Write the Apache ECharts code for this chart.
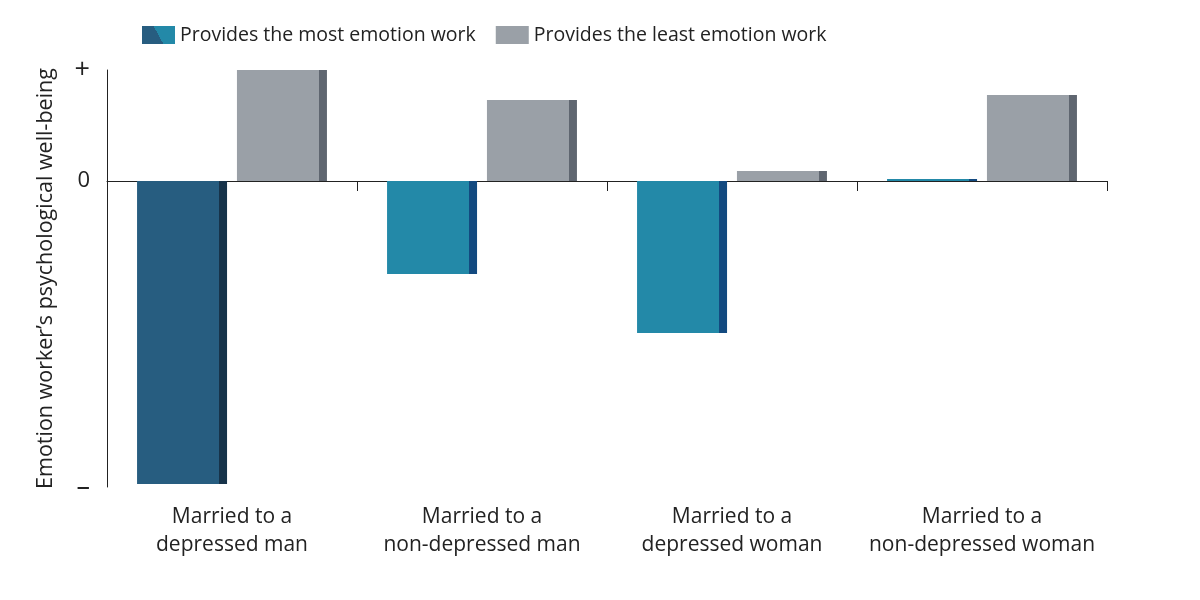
<!DOCTYPE html>
<html>
<head>
<meta charset="utf-8">
<script src="https://cdn.jsdelivr.net/npm/echarts@6/dist/echarts.min.js"></script>
<style>
  html, body { margin: 0; padding: 0; background: #fff; }
  #chart { width: 1200px; height: 600px; }
</style>
</head>
<body>
<div id="chart"></div>
<script>
// categories and values (relative well-being, zero = baseline)
const categories = [
  'Married to a\ndepressed man',
  'Married to a\nnon-depressed man',
  'Married to a\ndepressed woman',
  'Married to a\nnon-depressed woman'
]
const mostWork = [-303, -93, -152, 2]
const leastWork = [111, 81, 10, 86]
const yMin = -306
const yMax = 111

function sideShade (main, dark) {
  return new echarts.graphic.LinearGradient(0, 0, 1, 0, [
    { offset: 0, color: main },
    { offset: 0.91, color: main },
    { offset: 0.91, color: dark },
    { offset: 1, color: dark }
  ])
}

const blue = sideShade('#2389a8', '#134a80')
const blueDark = sideShade('#275d80', '#17334a')
const gray = sideShade('#9aa0a7', '#5f6670')

const font = 'Open Sans'

let myChart = echarts.init(document.getElementById('chart'))
myChart.setOption({
  animation: false,
  textStyle: { fontFamily: font },
  legend: {
    left: 137,
    top: 20,
    icon: 'rect',
    itemWidth: 33,
    itemHeight: 18,
    itemGap: 20,
    textStyle: { fontSize: 19.5, color: '#222', fontFamily: font },
    data: [
      {
        name: 'Provides the most emotion work',
        itemStyle: {
          color: new echarts.graphic.LinearGradient(0, 1, 1, 0, [
            { offset: 0, color: '#275d80' },
            { offset: 0.5, color: '#275d80' },
            { offset: 0.5, color: '#2389a8' },
            { offset: 1, color: '#2389a8' }
          ])
        }
      },
      { name: 'Provides the least emotion work', itemStyle: { color: '#9aa0a7' } }
    ]
  },
  grid: { left: 107, right: 93, top: 70, bottom: 113 },
  xAxis: [
    {
      type: 'category',
      data: categories,
      axisLine: { onZero: true, lineStyle: { color: '#222', width: 1 } },
      axisTick: { show: true, length: 10, lineStyle: { color: '#222' } },
      axisLabel: { show: false }
    },
    {
      type: 'category',
      data: categories,
      position: 'bottom',
      axisLine: { show: false, onZero: false },
      axisTick: { show: false },
      axisLabel: { interval: 0, margin: 16, fontSize: 21, lineHeight: 28, color: '#222', fontFamily: font }
    }
  ],
  yAxis: {
    type: 'value',
    min: yMin,
    max: yMax,
    name: 'Emotion worker\u2019s psychological well-being',
    nameLocation: 'middle',
    nameGap: 50,
    nameTextStyle: { fontSize: 21.5, color: '#222', fontFamily: font },
    axisLine: { show: true, lineStyle: { color: '#222', width: 1 } },
    axisTick: { show: false },
    splitLine: { show: false },
    axisLabel: {
      customValues: [yMin, 0, yMax],
      margin: 17,
      fontSize: 22,
      color: '#222',
      fontFamily: font,
      formatter: function (v) {
        if (v === 0) return '0'
        return v > 0 ? '{s|+}' : '{s|\u2013}'
      },
      rich: {
        s: { fontSize: 27, color: '#222', fontFamily: font }
      }
    }
  },
  series: [
    {
      name: 'Provides the most emotion work',
      type: 'bar',
      barWidth: 90,
      barGap: '11%',
      itemStyle: { color: blue },
      data: mostWork.map(function (v, i) {
        return i === 0 ? { value: v, itemStyle: { color: blueDark } } : v
      })
    },
    {
      name: 'Provides the least emotion work',
      type: 'bar',
      barWidth: 90,
      itemStyle: { color: gray },
      data: leastWork
    }
  ]
})
</script>
</body>
</html>
